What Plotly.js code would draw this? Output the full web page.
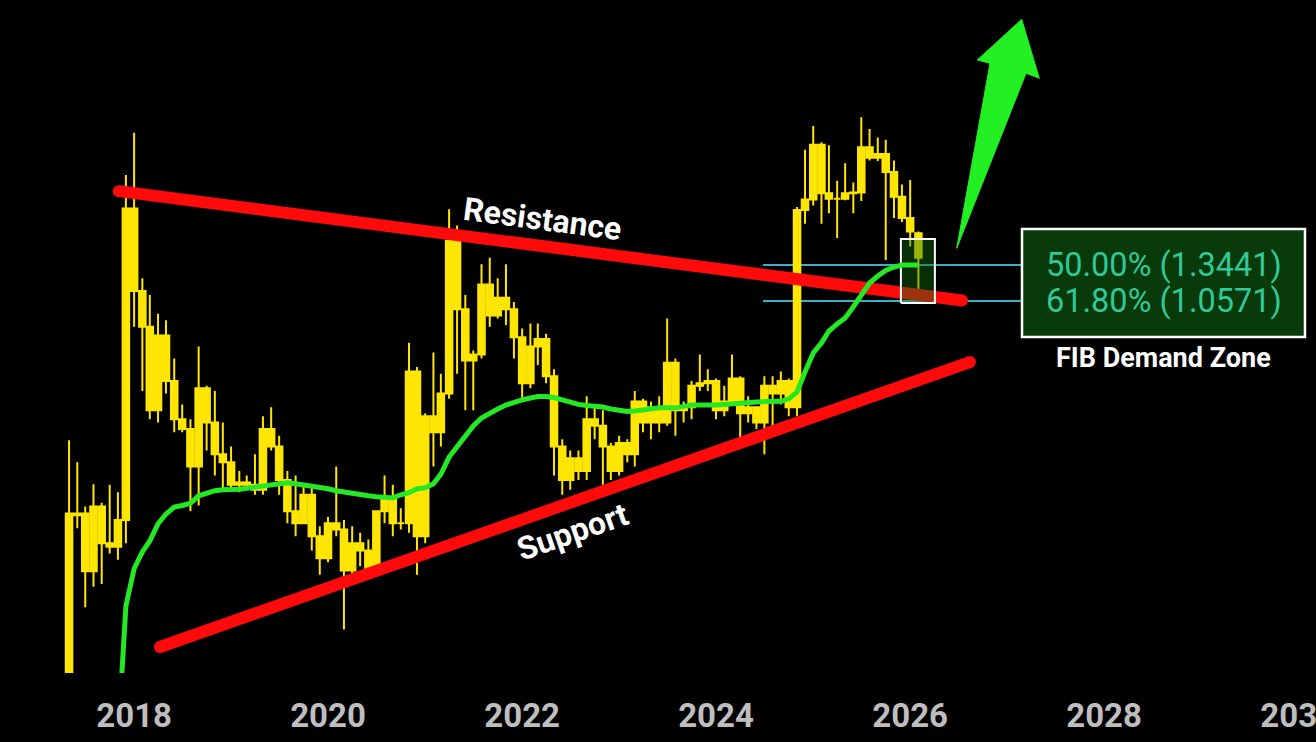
<!DOCTYPE html>
<html>
<head>
<meta charset="utf-8">
<script src="https://cdn.plot.ly/plotly-3.0.1.min.js"></script>
<style>
  html, body { margin: 0; padding: 0; background: #000; }
  #chart { width: 1316px; height: 742px; }
</style>
</head>
<body>
<div id="chart"></div>
<script>
// ---- monthly candles ----
const months = [
  '2017-05-01','2017-06-01','2017-07-01','2017-08-01','2017-09-01','2017-10-01','2017-11-01','2017-12-01',
  '2018-01-01','2018-02-01','2018-03-01','2018-04-01','2018-05-01','2018-06-01','2018-07-01','2018-08-01','2018-09-01','2018-10-01','2018-11-01','2018-12-01',
  '2019-01-01','2019-02-01','2019-03-01','2019-04-01','2019-05-01','2019-06-01','2019-07-01','2019-08-01','2019-09-01','2019-10-01','2019-11-01','2019-12-01',
  '2020-01-01','2020-02-01','2020-03-01','2020-04-01','2020-05-01','2020-06-01','2020-07-01','2020-08-01','2020-09-01','2020-10-01','2020-11-01','2020-12-01',
  '2021-01-01','2021-02-01','2021-03-01','2021-04-01','2021-05-01','2021-06-01','2021-07-01','2021-08-01','2021-09-01','2021-10-01','2021-11-01','2021-12-01',
  '2022-01-01','2022-02-01','2022-03-01','2022-04-01','2022-05-01','2022-06-01','2022-07-01','2022-08-01','2022-09-01','2022-10-01','2022-11-01','2022-12-01',
  '2023-01-01','2023-02-01','2023-03-01','2023-04-01','2023-05-01','2023-06-01','2023-07-01','2023-08-01','2023-09-01','2023-10-01','2023-11-01','2023-12-01',
  '2024-01-01','2024-02-01','2024-03-01','2024-04-01','2024-05-01','2024-06-01','2024-07-01','2024-08-01','2024-09-01','2024-10-01','2024-11-01','2024-12-01',
  '2025-01-01','2025-02-01','2025-03-01','2025-04-01','2025-05-01','2025-06-01','2025-07-01','2025-08-01','2025-09-01','2025-10-01','2025-11-01','2025-12-01',
  '2026-01-01','2026-02-01'
];
const openP = [
  0.062,0.256,0.256,0.174,0.268,0.210,0.205,0.245,
  1.96,1.13,0.89,0.51,0.84,0.62,0.48,0.45,0.35,0.59,0.47,0.38,
  0.36,0.31,0.315,0.31,0.30,0.45,0.40,0.32,0.26,0.24,0.29,0.22,
  0.19,0.24,0.23,0.175,0.21,0.20,0.175,0.26,0.28,0.24,0.24,0.66,
  0.22,0.49,0.44,0.57,1.58,1.00,0.71,0.74,1.18,0.96,1.08,1.00,
  0.83,0.61,0.78,0.82,0.64,0.40,0.32,0.37,0.34,0.48,0.46,0.40,
  0.34,0.41,0.38,0.54,0.47,0.52,0.47,0.70,0.51,0.52,0.60,0.61,
  0.62,0.51,0.54,0.63,0.50,0.52,0.47,0.60,0.57,0.62,0.52,1.94,
  2.08,3.00,2.17,2.09,2.09,2.17,2.18,2.95,2.75,2.82,2.50,2.12,
  1.84,1.66
];
const highP = [
  0.417,0.360,0.268,0.311,0.275,0.310,0.295,2.45,
  3.25,1.23,1.10,0.97,0.93,0.72,0.53,0.48,0.78,0.60,0.58,0.47,
  0.40,0.34,0.33,0.38,0.49,0.52,0.43,0.34,0.33,0.31,0.31,0.235,
  0.25,0.35,0.245,0.235,0.225,0.215,0.26,0.33,0.31,0.265,0.80,0.68,
  0.50,0.75,0.65,1.95,1.75,1.10,0.76,1.35,1.41,1.23,1.35,1.05,
  0.88,0.91,0.91,0.85,0.67,0.42,0.39,0.39,0.56,0.52,0.51,0.41,
  0.43,0.42,0.58,0.55,0.54,0.56,0.94,0.72,0.54,0.62,0.74,0.67,
  0.63,0.60,0.74,0.64,0.56,0.52,0.64,0.64,0.66,0.63,1.98,2.90,
  3.40,3.05,2.99,2.36,2.65,2.33,3.60,3.33,3.15,3.10,2.70,2.30,
  2.37,1.68
];
const lowP = [
  0.058,0.232,0.137,0.157,0.160,0.196,0.188,0.210,
  0.89,0.58,0.48,0.47,0.57,0.44,0.44,0.26,0.27,0.39,0.33,0.30,
  0.30,0.295,0.30,0.29,0.29,0.39,0.29,0.24,0.22,0.24,0.20,0.17,
  0.185,0.22,0.118,0.17,0.18,0.17,0.17,0.24,0.22,0.23,0.225,0.17,
  0.21,0.35,0.40,0.55,0.65,0.51,0.51,0.72,0.89,0.94,0.90,0.72,
  0.55,0.59,0.69,0.61,0.33,0.29,0.30,0.32,0.32,0.42,0.31,0.32,
  0.33,0.36,0.35,0.44,0.42,0.44,0.46,0.43,0.47,0.48,0.58,0.58,
  0.48,0.49,0.53,0.42,0.47,0.45,0.38,0.43,0.53,0.49,0.49,1.77,
  2.00,1.77,1.90,1.61,2.07,1.90,2.06,2.70,2.69,1.39,1.84,1.79,
  1.52,1.12
];
const closeP = [
  0.256,0.253,0.174,0.268,0.210,0.205,0.245,1.96,
  1.13,0.89,0.51,0.84,0.62,0.48,0.45,0.35,0.59,0.47,0.38,0.36,
  0.31,0.315,0.31,0.30,0.45,0.40,0.32,0.26,0.24,0.29,0.22,0.19,
  0.24,0.23,0.175,0.21,0.20,0.175,0.26,0.28,0.24,0.24,0.66,0.22,
  0.49,0.44,0.57,1.58,1.00,0.71,0.74,1.18,0.96,1.08,1.00,0.83,
  0.61,0.78,0.82,0.64,0.40,0.32,0.37,0.34,0.48,0.46,0.40,0.34,
  0.41,0.38,0.54,0.47,0.52,0.47,0.70,0.51,0.52,0.60,0.61,0.62,
  0.51,0.54,0.63,0.50,0.52,0.47,0.60,0.57,0.62,0.52,1.94,2.08,
  3.00,2.17,2.09,2.09,2.17,2.18,2.95,2.75,2.82,2.50,2.12,1.84,
  1.68,1.41
];
// green moving-average line
const maValues = [
  null,null,null,null,null,null,0.0564,0.138,
  0.177,0.198,0.213,0.239,0.255,0.267,0.270,0.274,0.288,0.294,0.298,0.300,
  0.300,0.301,0.303,0.305,0.308,0.310,0.313,0.314,0.312,0.310,0.308,0.306,
  0.302,0.298,0.295,0.293,0.290,0.288,0.286,0.285,0.284,0.290,0.294,0.302,
  0.304,0.312,0.333,0.373,0.399,0.424,0.459,0.484,0.501,0.514,0.528,0.539,
  0.546,0.553,0.559,0.559,0.555,0.546,0.537,0.530,0.526,0.525,0.521,0.514,
  0.509,0.506,0.507,0.511,0.516,0.518,0.518,0.518,0.523,0.528,0.528,0.526,
  0.528,0.530,0.533,0.535,0.537,0.539,0.540,0.540,0.541,0.550,0.576,0.658,
  0.747,0.799,0.865,0.907,0.944,1.016,1.100,1.192,1.249,1.296,1.326,1.344,
  1.345,1.345
];
// trend lines
const resistanceDates = ['2017-11-04', '2026-07-15'];
const resistanceValues = [2.20, 1.06];
const supportDates = ['2018-04-08', '2026-08-14'];
const supportValues = [0.105, 0.703];
// fibonacci demand zone
const fibLabels = ['50.00%', '61.80%'];
const fibValues = [1.3441, 1.0571];
const fibLineDates = ['2024-06-26', '2027-02-26'];
const zoneDates = ['2025-11-27', '2026-04-04'];
const zoneValues = [1.0426, 1.599];
// axis ticks
const tickYears = ['2018','2020','2022','2024','2026','2028','2030'];

const YELLOW = '#FFE600';
const RED = '#FF0A0A';
const GREEN = '#25E825';

const traces = [
  { type: 'scatter', mode: 'lines+markers', x: resistanceDates, y: resistanceValues,
    line: { color: RED, width: 12 }, marker: { color: RED, size: 12 }, hoverinfo: 'skip' },
  { type: 'scatter', mode: 'lines+markers', x: supportDates, y: supportValues,
    line: { color: RED, width: 12 }, marker: { color: RED, size: 12 }, hoverinfo: 'skip' },
  { type: 'scatter', mode: 'lines',
    x: [zoneDates[0], zoneDates[1], zoneDates[1], zoneDates[0], zoneDates[0]],
    y: [zoneValues[0], zoneValues[0], zoneValues[1], zoneValues[1], zoneValues[0]],
    fill: 'toself', fillcolor: 'rgba(20,110,20,0.42)',
    line: { color: '#FFFFFF', width: 2 }, hoverinfo: 'skip' },
  { type: 'candlestick', x: months, open: openP, high: highP, low: lowP, close: closeP,
    increasing: { line: { color: YELLOW, width: 2 }, fillcolor: YELLOW },
    decreasing: { line: { color: YELLOW, width: 2 }, fillcolor: YELLOW },
    whiskerwidth: 0, hoverinfo: 'skip' },
  { type: 'scatter', mode: 'lines', x: months, y: maValues,
    line: { color: GREEN, width: 5 }, connectgaps: false, hoverinfo: 'skip' }
];

const P = (px) => px / 1316;
const Q = (py) => 1 - py / 673;
const arrowPts = [[1021.7,19.3],[1039.3,78.3],[1026,73.3],[956.7,248.3],[990,63.3],[977.3,60]];
const arrowPath = 'M ' + arrowPts.map(p => P(p[0]).toFixed(5) + ',' + Q(p[1]).toFixed(5)).join(' L ') + ' Z';

const shapes = fibValues.map(v => ({
  type: 'line', xref: 'x', yref: 'y', x0: fibLineDates[0], x1: fibLineDates[1], y0: v, y1: v,
  line: { color: '#3AAFC9', width: 2 }, layer: 'below'
}));
shapes.push({ type: 'rect', xref: 'paper', yref: 'paper', x0: P(1022), x1: P(1305), y0: Q(337), y1: Q(229),
  fillcolor: '#093A09', line: { color: '#FFFFFF', width: 2.5 }, layer: 'above' });
shapes.push({ type: 'path', xref: 'paper', yref: 'paper', path: arrowPath,
  fillcolor: '#22F022', line: { color: '#22F022', width: 1 }, layer: 'above' });

const annotations = [
  { text: 'Resistance', xref: 'paper', yref: 'paper', x: P(542), y: Q(219), showarrow: false,
    xanchor: 'center', yanchor: 'middle',
    textangle: 7.5, font: { family: 'Roboto, sans-serif', size: 32, color: '#FFFFFF', weight: 'bold' } },
  { text: 'Support', xref: 'paper', yref: 'paper', x: P(572), y: Q(532), showarrow: false,
    xanchor: 'center', yanchor: 'middle',
    textangle: -19, font: { family: 'Roboto, sans-serif', size: 32, color: '#FFFFFF', weight: 'bold' } },
  { text: 'FIB Demand Zone', xref: 'paper', yref: 'paper', x: P(1163), y: Q(358), showarrow: false,
    xanchor: 'center', yanchor: 'middle',
    font: { family: 'Roboto, sans-serif', size: 27, color: '#FFFFFF', weight: 'bold' } }
];
fibValues.forEach((v, i) => {
  annotations.push({ text: fibLabels[i] + ' (' + v.toFixed(4) + ')', xref: 'paper', yref: 'y',
    x: P(1164), y: Math.log10(v), showarrow: false, xanchor: 'center', yanchor: 'middle',
    font: { family: 'Roboto, sans-serif', size: 32.5, color: '#2FC99B' } });
});

const layout = {
  width: 1316, height: 742,
  paper_bgcolor: '#000000', plot_bgcolor: '#000000',
  margin: { l: 0, r: 0, t: 0, b: 69 },
  showlegend: false, hovermode: false,
  boxgap: 0.12, boxgroupgap: 0,
  xaxis: {
    type: 'date', range: ['2016-08-14', '2030-03-09'],
    tickvals: tickYears.map(y => y + '-01-01'), ticktext: tickYears,
    showgrid: false, zeroline: false, showline: false, ticks: '',
    ticklabelstandoff: 20, ticklabeloverflow: 'allow',
    tickfont: { family: 'Roboto, sans-serif', size: 33, color: '#BEBEBE', weight: 'bold' },
    rangeslider: { visible: false }, fixedrange: true
  },
  yaxis: {
    type: 'log', range: [-1.0542, 0.8965], visible: false,
    showgrid: false, zeroline: false, fixedrange: true
  },
  shapes: shapes,
  annotations: annotations
};

Plotly.newPlot('chart', traces, layout, { staticPlot: true, displayModeBar: false });
</script>
</body>
</html>
